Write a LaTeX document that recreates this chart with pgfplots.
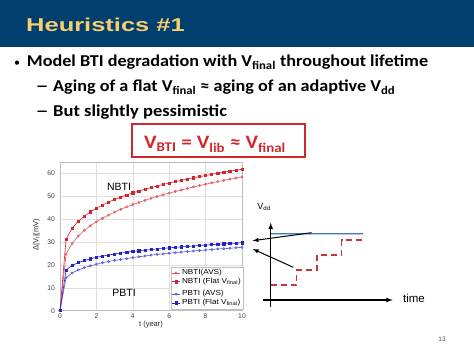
\documentclass[border=0pt]{standalone}
\usepackage{fontspec}
\setmainfont{Liberation Sans}
\newfontfamily\calib{Carlito}
\usepackage{graphicx}
\usepackage{pgfplots}
\usepackage{pgfplotstable}
\pgfplotsset{compat=1.18}
\definecolor{titlebg}{RGB}{0,63,110}
\definecolor{titlefg}{RGB}{247,205,110}
\definecolor{boxred}{RGB}{210,40,45}
\definecolor{nred}{RGB}{215,35,45}
\definecolor{pblue}{RGB}{35,35,200}
\definecolor{vblue}{RGB}{70,120,200}
\definecolor{dred}{RGB}{205,50,60}
\pgfplotstableread{
t navs nflat pavs pflat
0 0 0 0 0
0.333 24.7 31.3 14.4 17.8
0.667 29.4 36.0 16.5 19.8
1 32.6 39.0 17.8 21.0
1.333 35.1 41.3 18.8 21.9
1.667 37.1 43.2 19.6 22.7
2 38.9 44.8 20.3 23.3
2.333 40.4 46.2 21.0 23.9
2.667 41.8 47.5 21.5 24.3
3 43.1 48.6 22.0 24.8
3.333 44.3 49.6 22.4 25.2
3.667 45.4 50.6 22.8 25.5
4 46.4 51.5 23.2 25.9
4.333 47.3 52.3 23.6 26.2
4.667 48.2 53.1 23.9 26.5
5 49.1 53.8 24.3 26.7
5.333 49.9 54.5 24.6 27.0
5.667 50.7 55.2 24.8 27.2
6 51.4 55.8 25.1 27.5
6.333 52.1 56.4 25.4 27.7
6.667 52.8 57.0 25.6 27.9
7 53.4 57.6 25.9 28.1
7.333 54.1 58.1 26.1 28.3
7.667 54.7 58.6 26.3 28.5
8 55.3 59.1 26.5 28.7
8.333 55.9 59.6 26.7 28.9
8.667 56.4 60.1 27.0 29.0
9 57.0 60.5 27.1 29.2
9.333 57.5 61.0 27.3 29.4
9.667 58.0 61.4 27.5 29.5
10 58.5 61.8 27.7 29.7
}\datatable
\begin{document}
\begin{tikzpicture}[x=1pt,y=1pt]
\path[use as bounding box] (0,0) rectangle (474,355);
\fill[titlebg] (0,308) rectangle (474,355);
\node[anchor=base west, text=titlefg, font=\fontsize{18.6}{22}\selectfont\bfseries, inner sep=0] at (26,323.3) {\scalebox{1.37}[1]{Heuristics \#1}};
% bullets
\node[anchor=base west, inner sep=0, font=\calib\fontsize{12}{14}\selectfont] at (14,288.3) {•};
\node[anchor=base west, inner sep=0, font=\calib\bfseries\fontsize{16.6}{18}\selectfont] at (26.7,288.3) {\scalebox{1.095}[1]{Model BTI degradation with V\textsubscript{final} throughout lifetime}};
\node[anchor=base west, inner sep=0, font=\calib\bfseries\fontsize{16.6}{18}\selectfont] at (35.5,263.3) {\scalebox{1.6}[1]{–}};
\node[anchor=base west, inner sep=0, font=\calib\bfseries\fontsize{16.6}{18}\selectfont] at (53,263.3) {\scalebox{1.095}[1]{Aging of a flat V\textsubscript{final} ≈ aging of an adaptive V\textsubscript{dd}}};
\node[anchor=base west, inner sep=0, font=\calib\bfseries\fontsize{16.6}{18}\selectfont] at (35.5,238.3) {\scalebox{1.6}[1]{–}};
\node[anchor=base west, inner sep=0, font=\calib\bfseries\fontsize{16.6}{18}\selectfont] at (53,238.3) {\scalebox{1.115}[1]{But slightly pessimistic}};
\draw[boxred, line width=2pt] (131.7,198.3) rectangle (305,230.7);
\node[anchor=base, inner sep=0, text=boxred, font=\calib\bfseries\fontsize{19}{22}\selectfont] at (215,206) {\scalebox{1.12}[1]{V\textsubscript{BTI} = V\textsubscript{lib} ≈ V\textsubscript{final}}};
\node[anchor=center, text=black!70, font=\fontsize{6.5}{7}\selectfont] at (442,16) {13};

\begin{axis}[at={(60pt,44.3pt)}, anchor=south west, scale only axis,
  width=182pt, height=148.7pt,
  xmin=0, xmax=10, ymin=0, ymax=65,
  xtick={0,2,...,10}, ytick={0,10,...,60},
  grid=major, grid style={gray!25, line width=0.4pt},
  axis line style={gray!50},
  major tick length=0pt,
  tick label style={font=\fontsize{6.8}{8}\selectfont, text=black!75},
  yticklabel style={xshift=-1.5pt},
  /pgf/number format/assume math mode=true,
  xlabel={t (year)}, ylabel={Δ|V\textsubscript{t}|(mV)},
  label style={font=\fontsize{7.5}{8}\selectfont, text=black!85},
  xlabel style={at={(axis description cs:0.5,-0.095)}, anchor=center},
  ylabel style={at={(axis description cs:-0.13,0.51)}, anchor=center},
  legend style={at={(axis description cs:1.01,0.01)}, anchor=south east,
    font=\fontsize{7.3}{8}\selectfont, draw=gray!50, inner sep=0.8pt,
    row sep=-2pt, fill=white},
  legend image code/.code={\draw[mark repeat=2,mark phase=2] plot coordinates {(0cm,0cm) (0.13cm,0cm) (0.26cm,0cm)};},
  legend cell align=left,
  clip=false]
\addplot[nred!75, line width=0.6pt, mark=o, mark size=1.1pt, mark options={line width=0.6pt}] table[x=t,y=navs] {\datatable};
\addlegendentry{\scalebox{1.12}[1]{NBTI(AVS)}}
\addplot[nred, line width=0.6pt, mark=square*, mark size=1.1pt] table[x=t,y=nflat] {\datatable};
\addlegendentry{\scalebox{1.12}[1]{NBTI (Flat V\textsubscript{final})}}
\addlegendimage{empty legend}
\addlegendentry{}
\addplot[pblue!75, line width=0.6pt, mark=o, mark size=1.1pt, mark options={line width=0.6pt}] table[x=t,y=pavs] {\datatable};
\addlegendentry{\scalebox{1.12}[1]{PBTI (AVS)}}
\addplot[pblue, line width=0.6pt, mark=square*, mark size=1.1pt] table[x=t,y=pflat] {\datatable};
\addlegendentry{\scalebox{1.12}[1]{PBTI (Flat V\textsubscript{final})}}
\node[font=\fontsize{10.5}{12}\selectfont] at (axis cs:3.24,54) {NBTI};
\node[font=\fontsize{10.5}{12}\selectfont] at (axis cs:3.52,7.95) {PBTI};
\end{axis}

\begin{axis}[at={(0pt,0pt)}, anchor=south west, scale only axis,
  width=474pt, height=355pt, xmin=0, xmax=474, ymin=0, ymax=355,
  axis lines=none, clip=false]
\addplot[black, line width=1.2pt, -latex] coordinates {(270.7,48.3) (270.7,132.3)};
\addplot[black, line width=1.2pt, -latex] coordinates {(263.3,55) (392.7,55)};
\addplot[vblue!40, line width=1pt] coordinates {(271,120.3) (363.3,120.3)};
\addplot[vblue, line width=1.4pt] coordinates {(271,121.7) (363.3,121.7)};
\addplot[dred, line width=1.5pt, dash pattern=on 6pt off 4pt] coordinates {(271,70) (296.7,70) (296.7,85) (317,85) (317,100) (341.7,100) (341.7,115) (363.3,115)};
\addplot[black, line width=1pt, -latex] coordinates {(311.7,122.3) (252.7,114.3)};
\addplot[black, line width=1pt, -latex] coordinates {(293.3,87.7) (252.7,106)};
\node[font=\fontsize{9}{11}\selectfont] at (axis cs:264,148) {V\textsubscript{dd}};
\node[font=\fontsize{11.5}{13}\selectfont] at (axis cs:414,57) {time};
\end{axis}
\end{tikzpicture}
\end{document}
